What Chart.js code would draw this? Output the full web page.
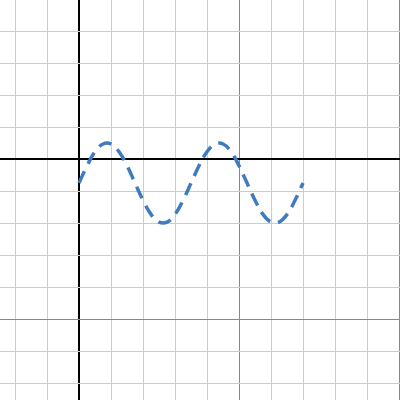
<!DOCTYPE html>
<html><head><style>html,body{margin:0;padding:0;background:#fff}</style>
<script src="https://cdn.jsdelivr.net/npm/chart.js@4"></script></head>
<body><canvas id="c" width="400" height="400"></canvas>
<script>
const xValues=[0,0.25,0.5,0.75,1,1.25,1.5,1.75,2,2.25,2.5,2.75,3,3.25,3.5,3.75,4,4.25,4.5,4.75,5,5.25,5.5,5.75,6,6.25,6.5,6.75,7];
const yValues=[-0.75,-0.21,0.23,0.47,0.47,0.23,-0.21,-0.75,-1.29,-1.73,-1.97,-1.97,-1.73,-1.29,-0.75,-0.21,0.23,0.47,0.47,0.23,-0.21,-0.75,-1.29,-1.73,-1.97,-1.97,-1.73,-1.29,-0.75];
const pts=xValues.map((x,i)=>({x:x,y:yValues[i]}));
function grid(){return {
  color:c=>c.tick.value===0?'#000':(Math.round(c.tick.value)%5===0?'#888':'#ccc'),
  lineWidth:c=>c.tick.value===0?2:1,
  drawTicks:false};}
function ints(s){s.ticks=[];for(let v=Math.ceil(s.min);v<=Math.floor(s.max);v++)s.ticks.push({value:v});}
new Chart(document.getElementById('c'),{type:'scatter',
data:{datasets:[{data:pts,showLine:true,borderColor:'#3f7bbf',borderWidth:3.5,borderDash:[13,8],pointRadius:0,tension:0.4,fill:false}]},
options:{responsive:false,animation:false,devicePixelRatio:1,layout:{padding:0},
plugins:{legend:{display:false},tooltip:{enabled:false}},
scales:{
 x:{type:'linear',min:-2.47,max:10.03,afterBuildTicks:ints,ticks:{display:false},grid:grid(),border:{display:false}},
 y:{type:'linear',min:-7.53,max:4.97,afterBuildTicks:ints,ticks:{display:false},grid:grid(),border:{display:false}}
}}});
</script></body></html>
